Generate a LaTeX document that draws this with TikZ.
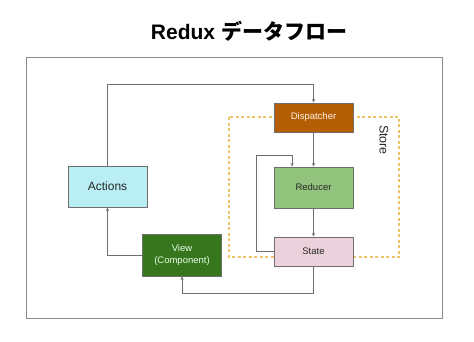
\documentclass[tikz,border=0pt]{standalone}
\usepackage{fontspec}
\setmainfont{Liberation Sans}
\newfontfamily\cjk{Noto Sans CJK JP}
\usetikzlibrary{arrows.meta}
\definecolor{edgegray}{HTML}{6E6E6E}
\definecolor{dispfill}{HTML}{B45F06}
\definecolor{redfill}{HTML}{93C47D}
\definecolor{statefill}{HTML}{EAD1DC}
\definecolor{actfill}{HTML}{B9EEF4}
\definecolor{viewfill}{HTML}{38761D}
\definecolor{storeline}{HTML}{EEC46A}
\tikzset{
  box/.style={draw=edgegray, line width=0.9pt, minimum width=79pt, inner sep=0pt, align=center, font=\fontsize{9.5}{11.5}\selectfont},
  flow/.style={draw=edgegray, line width=0.8pt, -{Stealth[length=3.5pt,width=3pt]}},
  storebox/.style={draw=storeline, line width=1.1pt, dash pattern=on 3pt off 2.5pt},
}
\begin{document}
\begin{tikzpicture}[x=1pt,y=-1pt]
\useasboundingbox[fill=white] (0,0) rectangle (474,341);
\node (title) at (249,31) {\fontsize{21}{24}\selectfont\bfseries Redux {\cjk\bfseries データフロー}};
\draw[draw=edgegray!80, line width=0.9pt] (26,57) rectangle (442,318);
\draw[storebox] (229,117) rectangle (399,257);
\node[rotate=-90, font=\fontsize{12.5}{14}\selectfont, text=black!85] (storelbl) at (384,140) {Store};
\node[box, fill=dispfill, text=white!90!orange, minimum height=29pt] (disp) at (313.5,117.5) {Dispatcher};
\node[box, fill=redfill, text=black!85, minimum height=41pt] (red) at (313.5,187.5) {Reducer};
\node[box, fill=statefill, text=black!85, minimum height=29pt] (state) at (313.5,251.5) {State};
\node[box, fill=actfill, text=black!85, minimum height=41pt, font=\fontsize{12}{14}\selectfont] (act) at (107.5,186.5) {Actions};
\node[box, fill=viewfill, text=white!90!green, minimum height=42pt] (view) at (182,255) {View\\(Component)};
\coordinate (c1) at (107.5,84);
\coordinate (c2) at (256,155);
\coordinate (c3) at (292,155);
\draw[flow] (act.north) -- (c1) -| (disp.north);
\draw[flow] (disp.south) -- (red.north);
\draw[flow] (red.south) -- (state.north);
\draw[flow] (state.west) -| (c2) -- (c3) -- (c3 |- red.north);
\draw[flow] (state.south) -- ++(0,27) -| (view.south);
\draw[flow] (view.west) -| (act.south);
\end{tikzpicture}
\end{document}
